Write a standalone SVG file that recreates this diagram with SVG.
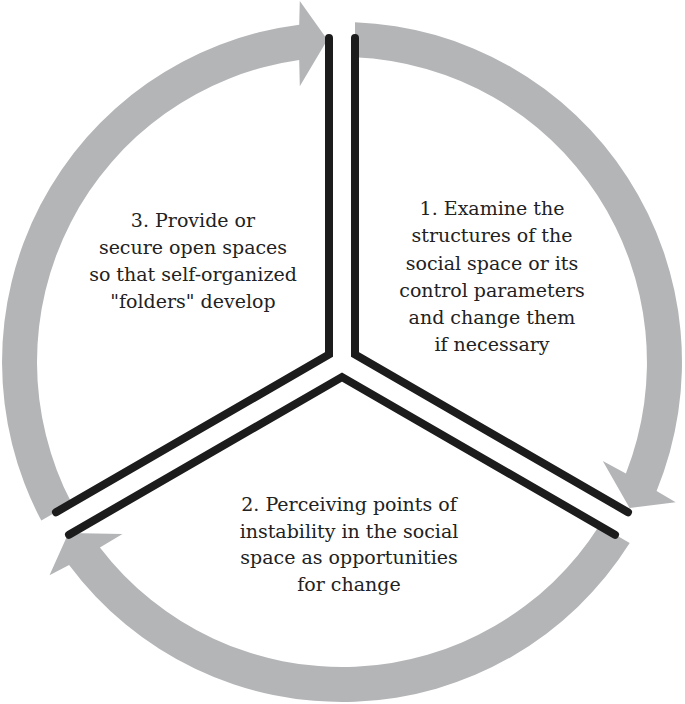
<svg xmlns="http://www.w3.org/2000/svg" width="685" height="704" viewBox="0 0 685 704">
<style>
.arc{fill:#b4b5b7;stroke:none}
.div{fill:none;stroke:#1c1c1c;stroke-width:8;stroke-linejoin:miter;stroke-linecap:round}
.t{font-family:"DejaVu Serif","Liberation Serif",serif;font-size:19px;fill:#222222;text-anchor:middle}
</style>
<rect width="685" height="704" fill="#ffffff"/>
<g id="connectors">
<path class="arc" d="M 355 22.25 A 340 340 0 0 1 656.6 490.9 L 675.7 502.3 L 629.6 507.9 L 602.8 461.1 L 625.9 473.4 A 305 305 0 0 0 355 57.3 Z"/>
<path class="arc" d="M 629.7 543.1 A 340 340 0 0 1 69.1 564.9 L 49.5 575.3 L 68.5 532.9 L 122.5 534.1 L 99.9 547.5 A 305 305 0 0 0 599.4 525.6 Z"/>
<path class="arc" d="M 41.3 520.6 A 340 340 0 0 1 299.2 24.7 L 299.8 1 L 327.4 39.8 L 299.8 86.2 L 299.2 60 A 305 305 0 0 0 71.6 503.1 Z"/>
</g>
<g id="dividers">
<polyline class="div" points="329,38 329,354.5 56,512.2"/>
<polyline class="div" points="355,38 355,354.5 628,512.2"/>
<polyline class="div" points="69,534.7 342,377 615,534.7"/>
</g>
<g id="node-3">
<text class="t" x="193" y="227">3. Provide or</text>
<text class="t" x="193" y="254">secure open spaces</text>
<text class="t" x="193" y="281">so that self-organized</text>
<text class="t" x="193" y="308">"folders" develop</text>
</g>
<g id="node-1">
<text class="t" x="492" y="215">1. Examine the</text>
<text class="t" x="492" y="242">structures of the</text>
<text class="t" x="492" y="269.5">social space or its</text>
<text class="t" x="492" y="296.5">control parameters</text>
<text class="t" x="492" y="324">and change them</text>
<text class="t" x="492" y="351">if necessary</text>
</g>
<g id="node-2">
<text class="t" x="349" y="511">2. Perceiving points of</text>
<text class="t" x="349" y="537.5">instability in the social</text>
<text class="t" x="349" y="564">space as opportunities</text>
<text class="t" x="349" y="590.5">for change</text>
</g>
</svg>
